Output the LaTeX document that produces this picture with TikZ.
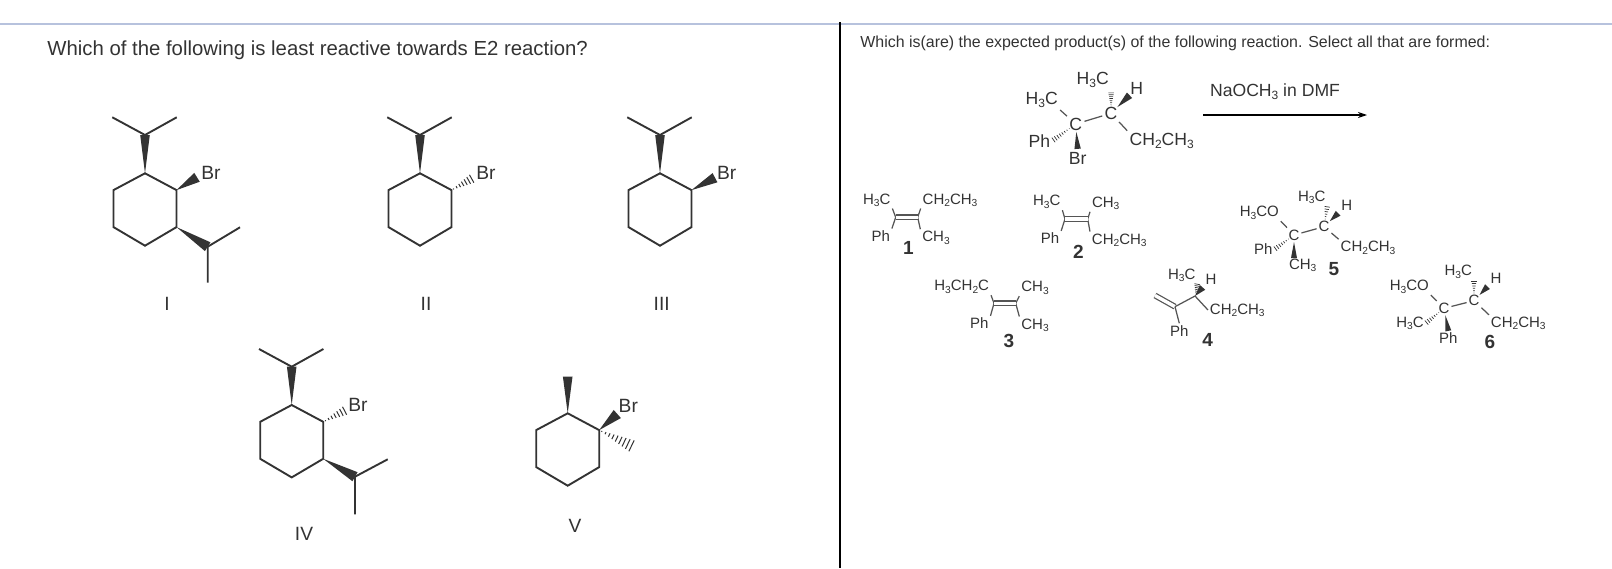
\documentclass[tikz,border=0pt]{standalone}
\usepackage{fontspec}
\setmainfont{Liberation Sans}
\usetikzlibrary{calc,arrows.meta}
\definecolor{ink}{HTML}{333333}
\definecolor{thin}{HTML}{555555}
\definecolor{rule}{HTML}{B7C2DD}
\newcommand\sbs[1]{\raisebox{-.3ex}{\scalebox{.68}{#1}}}
\tikzset{
  bond/.style={draw=ink,line width=.95pt,line join=miter},
  fbond/.style={draw=thin,line width=.62pt},
  dblbond/.style={draw=thin,line width=.62pt,double=white,double distance=1.7pt},
  lab/.style={font=\fontsize{9.6pt}{11pt}\selectfont,text=ink,inner sep=0pt},
  rlab/.style={font=\fontsize{8.8pt}{10pt}\selectfont,text=ink,inner sep=1pt},
  plab/.style={font=\fontsize{7.5pt}{9pt}\selectfont,text=ink,inner sep=.8pt},
  num/.style={font=\fontsize{9.5pt}{11pt}\bfseries\selectfont,text=ink,inner sep=0pt},
  qtext/.style={text=ink,inner sep=0pt,anchor=west}
}
% ring: top atom at (#2,#3)
\newcommand\ringat[3]{%
  \coordinate (#11) at (#2,#3);
  \coordinate (#12) at ({#2+31.5},{#3+16.8});
  \coordinate (#13) at ({#2+31.5},{#3+53.8});
  \coordinate (#14) at (#2,{#3+72.4});
  \coordinate (#15) at ({#2-31.5},{#3+53.8});
  \coordinate (#16) at ({#2-31.5},{#3+16.8});
  \draw[bond] (#11) -- (#12) -- (#13) -- (#14) -- (#15) -- (#16) -- cycle;
}
% wedge from #1 to #2, half width #3
\newcommand\wdg[3]{\fill[ink] ($(#2)!#3!90:(#1)$) -- ($(#2)!#3!-90:(#1)$) -- (#1) -- cycle;}
% hashed bond from #1 to #2: #3 strokes, half width at end #4 (number, pt), line width #5
\newcommand\hsh[5]{%
  \foreach \ii in {1,...,#3}{%
    \pgfmathsetmacro\hf{(\ii-.3)/#3*.98}%
    \pgfmathsetmacro\hw{\hf*#4}%
    \coordinate (hh) at ($(#1)!\hf!(#2)$);
    \draw[draw=ink,line width=#5] ($(hh)!\hw pt!90:(#2)$) -- ($(hh)!\hw pt!-90:(#2)$);
  }%
}
% trimmed bond ends
\newcommand\trim[4]{\coordinate (wa) at ($(#1)!#3!(#2)$);\coordinate (wb) at ($(#2)!#4!(#1)$);}
\newcommand\tips[3]{\draw[bond] (#2) -- (#1) -- (#3);}
\begin{document}
\begin{tikzpicture}[x=.5pt,y=-.5pt]
\useasboundingbox (0,0) rectangle (1612,568);
\fill[white] (0,0) rectangle (1612,568);
\coordinate (ruleL) at (0,24.3); \coordinate (ruleR) at (1612,24.3);
\coordinate (vtop) at (839.7,22); \coordinate (vbot) at (839.7,568);
\draw[rule,line width=1pt] (ruleL) -- (ruleR);
\draw[black,line width=.85pt] (vtop) -- (vbot);

\node[qtext,font=\fontsize{10.17pt}{12pt}\selectfont] (q1) at (47,50) {Which of the following is least reactive towards E2 reaction?};
\node[qtext,font=\fontsize{7.97pt}{9pt}\selectfont] (q2) at (860,43) {Which is(are) the expected product(s) of the following reaction. Select all that are formed:};

% --- I
\ringat{a}{145}{173.3}
\coordinate (aip) at (145,135); \coordinate (at1) at (112.3,117.3); \coordinate (at2) at (176.7,117.3);
\wdg{a1}{aip}{2.4pt}\tips{aip}{at1}{at2}
\coordinate (abr) at (197,177.3); \wdg{a2}{abr}{2.6pt}
\node[lab] (aBr) at (211,173) {Br};
\coordinate (aip2) at (207.7,246.7); \coordinate (at3) at (240,227.3); \coordinate (at4) at (207.7,282.7);
\wdg{a3}{aip2}{2.6pt}\tips{aip2}{at3}{at4}
\node[lab] (lI) at (167,304) {I};
% --- II
\ringat{b}{420}{173.3}
\coordinate (bip) at (420,135); \coordinate (bt1) at (387.3,117.3); \coordinate (bt2) at (451.7,117.3);
\wdg{b1}{bip}{2.4pt}\tips{bip}{bt1}{bt2}
\coordinate (bbr) at (473,178); \hsh{b2}{bbr}{7}{2.4}{.5pt}
\node[lab] (bBr) at (486,173) {Br};
\node[lab] (lII) at (426,304) {II};
% --- III
\ringat{c}{660}{173.3}
\coordinate (cip) at (660,135); \coordinate (ct1) at (627.3,117.3); \coordinate (ct2) at (691.7,117.3);
\wdg{c1}{cip}{2.4pt}\tips{cip}{ct1}{ct2}
\coordinate (cbr) at (715,177.7); \wdg{c2}{cbr}{2.6pt}
\node[lab] (cBr) at (726.7,173) {Br};
\node[lab] (lIII) at (661.7,304) {III};
% --- IV
\ringat{d}{291.7}{405}
\coordinate (dip) at (291.7,366.7); \coordinate (dt1) at (259,349); \coordinate (dt2) at (323.4,349);
\wdg{d1}{dip}{2.4pt}\tips{dip}{dt1}{dt2}
\coordinate (dbr) at (346,410); \hsh{d2}{dbr}{7}{2.4}{.5pt}
\node[lab] (dBr) at (358,405) {Br};
\coordinate (dip2) at (355,476.7); \coordinate (dt3) at (387.7,459.3); \coordinate (dt4) at (355,514.3);
\wdg{d3}{dip2}{2.6pt}\tips{dip2}{dt3}{dt4}
\node[lab] (lIV) at (304,534) {IV};
% --- V
\ringat{e}{567.7}{413.3}
\coordinate (eup) at (567.7,376.7); \wdg{e1}{eup}{2.4pt}
\coordinate (ebr) at (617.3,414); \wdg{e2}{ebr}{2.7pt}
\node[lab] (eBr) at (628.3,406) {Br};
\coordinate (eme) at (633.3,446.7); \hsh{e2}{eme}{9}{3.2}{.5pt}
\node[lab] (lV) at (575,526) {V};

% --- reactant
\node[rlab] (rc1) at (1075.7,124) {C};
\node[rlab] (rc2) at (1111,113.3) {C};
\node[rlab] (rm1) at (1041.7,100) {H\sbs{3}C};
\node[rlab] (rm2) at (1092.7,80) {H\sbs{3}C};
\node[rlab] (rh) at (1136.7,88.3) {H};
\node[rlab] (rph) at (1039.3,140.7) {Ph};
\node[rlab] (rbr) at (1077.7,158.3) {Br};
\node[rlab] (ret) at (1161.7,140.7) {CH\sbs{2}CH\sbs{3}};
\draw[fbond] (rc1) -- (rc2);
\draw[fbond] (rc1) -- (rm1.south east);
\draw[fbond] (rc2) -- (ret.north west);
\trim{rc2}{rh}{4.5pt}{5pt}\wdg{wa}{wb}{1.9pt}
\trim{rc2}{rm2.south east}{3pt}{1pt}\hsh{wa}{wb}{8}{1.5}{.35pt}
\trim{rc1}{rph.east}{3pt}{0pt}\hsh{wa}{wb}{8}{1.5}{.35pt}
\trim{rc1}{rbr.north}{4pt}{.5pt}\wdg{wa}{wb}{1.6pt}
\coordinate (ar1) at (1203.3,115); \coordinate (ar2) at (1367,115);
\draw[thin,line width=.6pt,-{Stealth[length=4.5pt,width=3pt]}] (ar1) -- (ar2);
\node[rlab] (rcond) at (1275,91.7) {NaOCH\sbs{3} in DMF};

% --- product 1
\coordinate (p1a) at (895.7,217.3); \coordinate (p1b) at (917.7,217.3);
\node[plab] (p1m) at (876.7,200) {H\sbs{3}C};
\node[plab] (p1e) at (950,200) {CH\sbs{2}CH\sbs{3}};
\node[plab] (p1p) at (880.7,236) {Ph};
\node[plab] (p1n) at (936,237.7) {CH\sbs{3}};
\node[num] (n1) at (908.3,248.3) {1};
\draw[fbond] (p1a) -- (p1m.south east);
\draw[fbond] (p1b) -- (p1e.south west);
\draw[fbond] (p1a) -- (p1p.north east);
\draw[fbond] (p1b) -- (p1n.north west);
\draw[dblbond] (p1a) -- (p1b);
% --- product 2
\coordinate (p2a) at (1065,219); \coordinate (p2b) at (1087.7,219);
\node[plab] (p2m) at (1046.7,201.7) {H\sbs{3}C};
\node[plab] (p2n) at (1105.7,203.3) {CH\sbs{3}};
\node[plab] (p2p) at (1050,238.3) {Ph};
\node[plab] (p2e) at (1119.3,240) {CH\sbs{2}CH\sbs{3}};
\node[num] (n2) at (1078.3,252.3) {2};
\draw[fbond] (p2a) -- (p2m.south east);
\draw[fbond] (p2b) -- (p2n.south west);
\draw[fbond] (p2a) -- (p2p.north east);
\draw[fbond] (p2b) -- (p2e.north west);
\draw[dblbond] (p2a) -- (p2b);
% --- product 3
\coordinate (p3a) at (994,303.3); \coordinate (p3b) at (1015.7,303.3);
\node[plab] (p3e) at (961.7,286.7) {H\sbs{3}CH\sbs{2}C};
\node[plab] (p3n) at (1035,287.7) {CH\sbs{3}};
\node[plab] (p3p) at (979.3,323.3) {Ph};
\node[plab] (p3o) at (1035,325) {CH\sbs{3}};
\node[num] (n3) at (1009,340.7) {3};
\draw[fbond] (p3a) -- (p3e.south east);
\draw[fbond] (p3b) -- (p3n.south west);
\draw[fbond] (p3a) -- (p3p.north east);
\draw[fbond] (p3b) -- (p3o.north west);
\draw[dblbond] (p3a) -- (p3b);
% --- product 4
\coordinate (p4c) at (1195,296); \coordinate (p4v) at (1175,306.7); \coordinate (p4t) at (1155,295.5);
\node[plab] (p4m) at (1181.7,275) {H\sbs{3}C};
\node[plab] (p4h) at (1211,279) {H};
\node[plab] (p4e) at (1237.3,310) {CH\sbs{2}CH\sbs{3}};
\node[plab] (p4p) at (1179.3,330.7) {Ph};
\node[num] (n4) at (1207.7,340) {4};
\draw[dblbond] (p4v) -- (p4t);
\draw[fbond] (p4v) -- (p4c);
\draw[fbond] (p4c) -- (p4e.west);
\draw[fbond] (p4v) -- (p4p.north);
\trim{p4c}{p4h.south west}{0pt}{.8pt}\wdg{wa}{wb}{1.8pt}
\trim{p4c}{p4m.south east}{1pt}{0pt}\hsh{wa}{wb}{6}{1.5}{.35pt}
% --- product 5
\node[plab] (p5a) at (1294,235) {C};
\node[plab] (p5b) at (1324,226.7) {C};
\node[plab] (p5o) at (1259.3,212.7) {H\sbs{3}CO};
\node[plab] (p5m) at (1311.7,197.3) {H\sbs{3}C};
\node[plab] (p5h) at (1346.7,205) {H};
\node[plab] (p5p) at (1263.3,249.3) {Ph};
\node[plab] (p5n) at (1302.7,265) {CH\sbs{3}};
\node[plab] (p5e) at (1368,247.7) {CH\sbs{2}CH\sbs{3}};
\node[num] (n5) at (1334,269.3) {5};
\draw[fbond] (p5a) -- (p5b);
\draw[fbond] (p5a) -- (p5o.south east);
\draw[fbond] (p5b) -- (p5e.north west);
\trim{p5b}{p5h.south west}{4pt}{.8pt}\wdg{wa}{wb}{1.7pt}
\trim{p5b}{p5m.south east}{3pt}{0pt}\hsh{wa}{wb}{6}{1.4}{.35pt}
\trim{p5a}{p5p.east}{2.5pt}{0pt}\hsh{wa}{wb}{7}{1.4}{.35pt}
\coordinate (p5s) at (1294,258); \trim{p5a}{p5s}{3.5pt}{0pt}\wdg{wa}{wb}{1.5pt}
% --- product 6
\node[plab] (p6a) at (1444,308.3) {C};
\node[plab] (p6b) at (1474,300.7) {C};
\node[plab] (p6o) at (1409.3,286.7) {H\sbs{3}CO};
\node[plab] (p6m) at (1458.3,271.7) {H\sbs{3}C};
\node[plab] (p6h) at (1496,278.3) {H};
\node[plab] (p6l) at (1410,323.3) {H\sbs{3}C};
\node[plab] (p6p) at (1448.3,338.3) {Ph};
\node[plab] (p6e) at (1518.3,323.3) {CH\sbs{2}CH\sbs{3}};
\node[num] (n6) at (1490,341.7) {6};
\draw[fbond] (p6a) -- (p6b);
\draw[fbond] (p6a) -- (p6o.south east);
\draw[fbond] (p6b) -- (p6e.north west);
\trim{p6b}{p6h.south west}{4pt}{.8pt}\wdg{wa}{wb}{1.7pt}
\trim{p6b}{p6m.south east}{3pt}{0pt}\hsh{wa}{wb}{6}{1.4}{.35pt}
\trim{p6a}{p6l.east}{2.5pt}{0pt}\hsh{wa}{wb}{7}{1.4}{.35pt}
\trim{p6a}{p6p.north}{3.5pt}{0pt}\wdg{wa}{wb}{1.5pt}
\end{tikzpicture}
\end{document}
